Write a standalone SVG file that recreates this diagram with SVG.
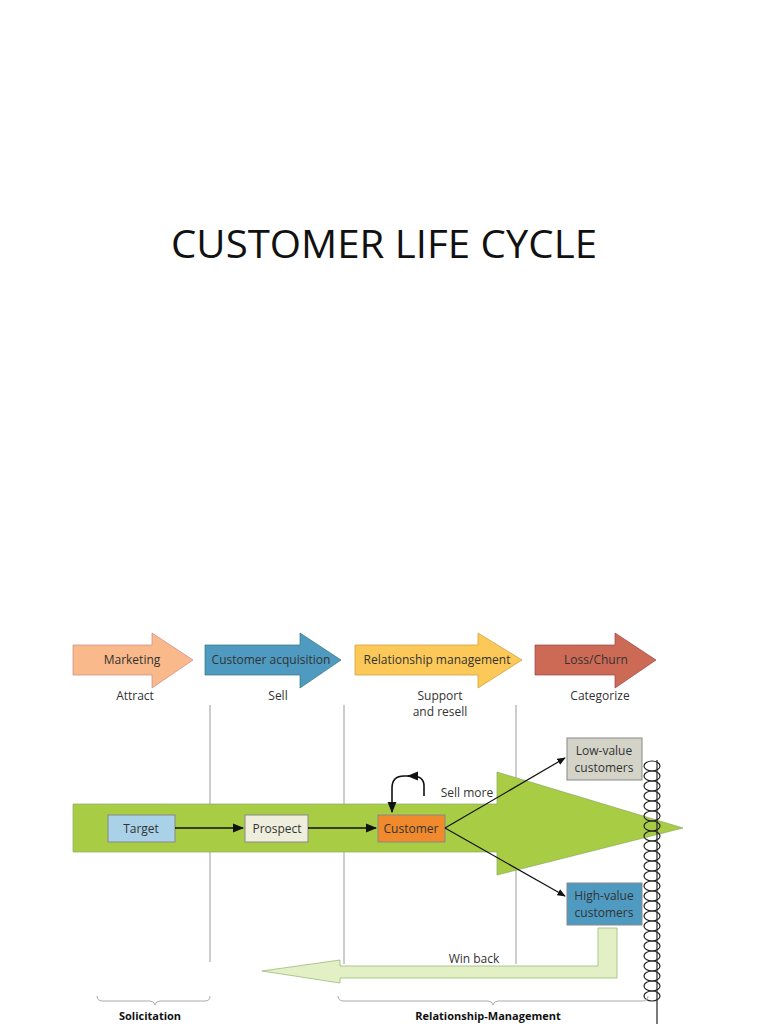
<svg xmlns="http://www.w3.org/2000/svg" width="768" height="1024" viewBox="0 0 768 1024">
<style>
.t{font-family:"Open Sans","Liberation Sans",sans-serif;font-size:12px;fill:#333;text-anchor:middle}
.b{font-weight:bold;fill:#111;font-size:11px}
.v{stroke:#999;stroke-width:1}
.box{stroke:#888;stroke-width:1}
</style>
<defs>
<marker id="ah" viewBox="0 0 10 10" refX="9" refY="5" markerWidth="7" markerHeight="7" orient="auto"><path d="M0,1 L10,5 L0,9 z" fill="#111"/></marker>
</defs>
<rect width="768" height="1024" fill="#fff"/>
<text x="384" y="258" font-family="Open Sans,Liberation Sans,sans-serif" font-size="38" text-anchor="middle" fill="#111" textLength="426" lengthAdjust="spacingAndGlyphs">CUSTOMER LIFE CYCLE</text>

<g id="phase-marketing"><path d="M73,645 H152 V633 L193,660 L152,688 V675 H73 Z" fill="#f9b98a" stroke="#c88" stroke-width="0.7"/><text class="t" x="132" y="664">Marketing</text></g>
<g id="phase-acquisition"><path d="M205,645 H300 V633 L341,660 L300,688 V675 H205 Z" fill="#4f9ac0" stroke="#377" stroke-width="0.7"/><text class="t" x="271" y="664">Customer acquisition</text></g>
<g id="phase-relationship"><path d="M355,645 H478 V633 L522,660 L478,688 V675 H355 Z" fill="#fcc958" stroke="#c93" stroke-width="0.7"/><text class="t" x="437" y="664">Relationship management</text></g>
<g id="phase-loss"><path d="M535,645 H615 V633 L656,660 L615,688 V675 H535 Z" fill="#cd6a55" stroke="#944" stroke-width="0.7"/><text class="t" x="596" y="664">Loss/Churn</text></g>

<text class="t" x="135" y="700">Attract</text>
<text class="t" x="278" y="700">Sell</text>
<text class="t" x="440" y="700">Support</text>
<text class="t" x="440" y="716">and resell</text>
<text class="t" x="600" y="700">Categorize</text>

<line class="v" x1="210" y1="705" x2="210" y2="962"/>
<line class="v" x1="344" y1="705" x2="344" y2="964"/>
<line class="v" x1="516" y1="705" x2="516" y2="964"/>

<g id="main-arrow"><path d="M73,804 H497 V772 L683,828 L497,875 V852 H73 Z" fill="#a9cc45" stroke="#8a6" stroke-width="0.7"/></g>

<g id="coil" fill="none" stroke="#222" stroke-width="1.2">
<line x1="657" y1="760" x2="657" y2="1024"/>
<ellipse cx="652" cy="766" rx="8" ry="5"/><ellipse cx="652" cy="776" rx="8" ry="5"/><ellipse cx="652" cy="786" rx="8" ry="5"/><ellipse cx="652" cy="796" rx="8" ry="5"/><ellipse cx="652" cy="806" rx="8" ry="5"/><ellipse cx="652" cy="816" rx="8" ry="5"/><ellipse cx="652" cy="826" rx="8" ry="5"/><ellipse cx="652" cy="836" rx="8" ry="5"/><ellipse cx="652" cy="846" rx="8" ry="5"/><ellipse cx="652" cy="856" rx="8" ry="5"/><ellipse cx="652" cy="866" rx="8" ry="5"/><ellipse cx="652" cy="876" rx="8" ry="5"/><ellipse cx="652" cy="886" rx="8" ry="5"/><ellipse cx="652" cy="896" rx="8" ry="5"/><ellipse cx="652" cy="906" rx="8" ry="5"/><ellipse cx="652" cy="916" rx="8" ry="5"/><ellipse cx="652" cy="926" rx="8" ry="5"/><ellipse cx="652" cy="936" rx="8" ry="5"/><ellipse cx="652" cy="946" rx="8" ry="5"/><ellipse cx="652" cy="956" rx="8" ry="5"/><ellipse cx="652" cy="966" rx="8" ry="5"/><ellipse cx="652" cy="976" rx="8" ry="5"/><ellipse cx="652" cy="986" rx="8" ry="5"/><ellipse cx="652" cy="996" rx="8" ry="5"/>
</g>

<g id="target"><rect class="box" x="108" y="815" width="67" height="27" fill="#a9d1e8"/><text class="t" x="141" y="833">Target</text></g>
<g id="prospect"><rect class="box" x="245" y="815" width="63" height="27" fill="#efeedd"/><text class="t" x="277" y="833">Prospect</text></g>
<g id="customer"><rect class="box" x="378" y="815" width="67" height="27" fill="#f08a2c"/><text class="t" x="411" y="833">Customer</text></g>
<g id="low-value"><rect class="box" x="567" y="738" width="75" height="42" fill="#d3d3c8"/><text class="t" x="604" y="755">Low-value</text><text class="t" x="604" y="772">customers</text></g>
<g id="high-value"><rect class="box" x="567" y="883" width="75" height="42" fill="#4f9ac0"/><text class="t" x="604" y="900">High-value</text><text class="t" x="604" y="917">customers</text></g>

<g id="winback"><path d="M598,928 H617 V978 H340 V983 L262,971 L340,960 V966 H598 Z" fill="#e3efc4" stroke="#9b7" stroke-width="0.8"/><text class="t" x="474" y="963">Win back</text></g>

<g id="connectors" fill="none" stroke="#111" stroke-width="1.6">
<line x1="175" y1="828" x2="243" y2="828" marker-end="url(#ah)"/>
<line x1="308" y1="828" x2="376" y2="828" marker-end="url(#ah)"/>
<line x1="445" y1="828" x2="565" y2="758" stroke-width="1.2" marker-end="url(#ah)"/>
<line x1="445" y1="828" x2="565" y2="896" stroke-width="1.2" marker-end="url(#ah)"/>
<path d="M424,796 V786 Q424,776 412,776 H404 Q392,776 392,788 V812" marker-end="url(#ah)"/>
<path d="M416,776 L408,776" marker-end="url(#ah)"/>
</g>
<text class="t" x="467" y="797">Sell more</text>

<g fill="none" stroke="#aaa" stroke-width="1">
<path d="M97,996 Q97,1001 103,1001 H150 Q154,1001 155,1005 Q156,1001 160,1001 H205 Q210,1001 210,996"/>
<path d="M338,996 Q338,1001 344,1001 H488 Q492,1001 493,1005 Q494,1001 498,1001 H642 Q648,1001 648,996"/>
</g>
<text class="t b" x="150" y="1020">Solicitation</text>
<text class="t b" x="488" y="1020">Relationship-Management</text>
</svg>
